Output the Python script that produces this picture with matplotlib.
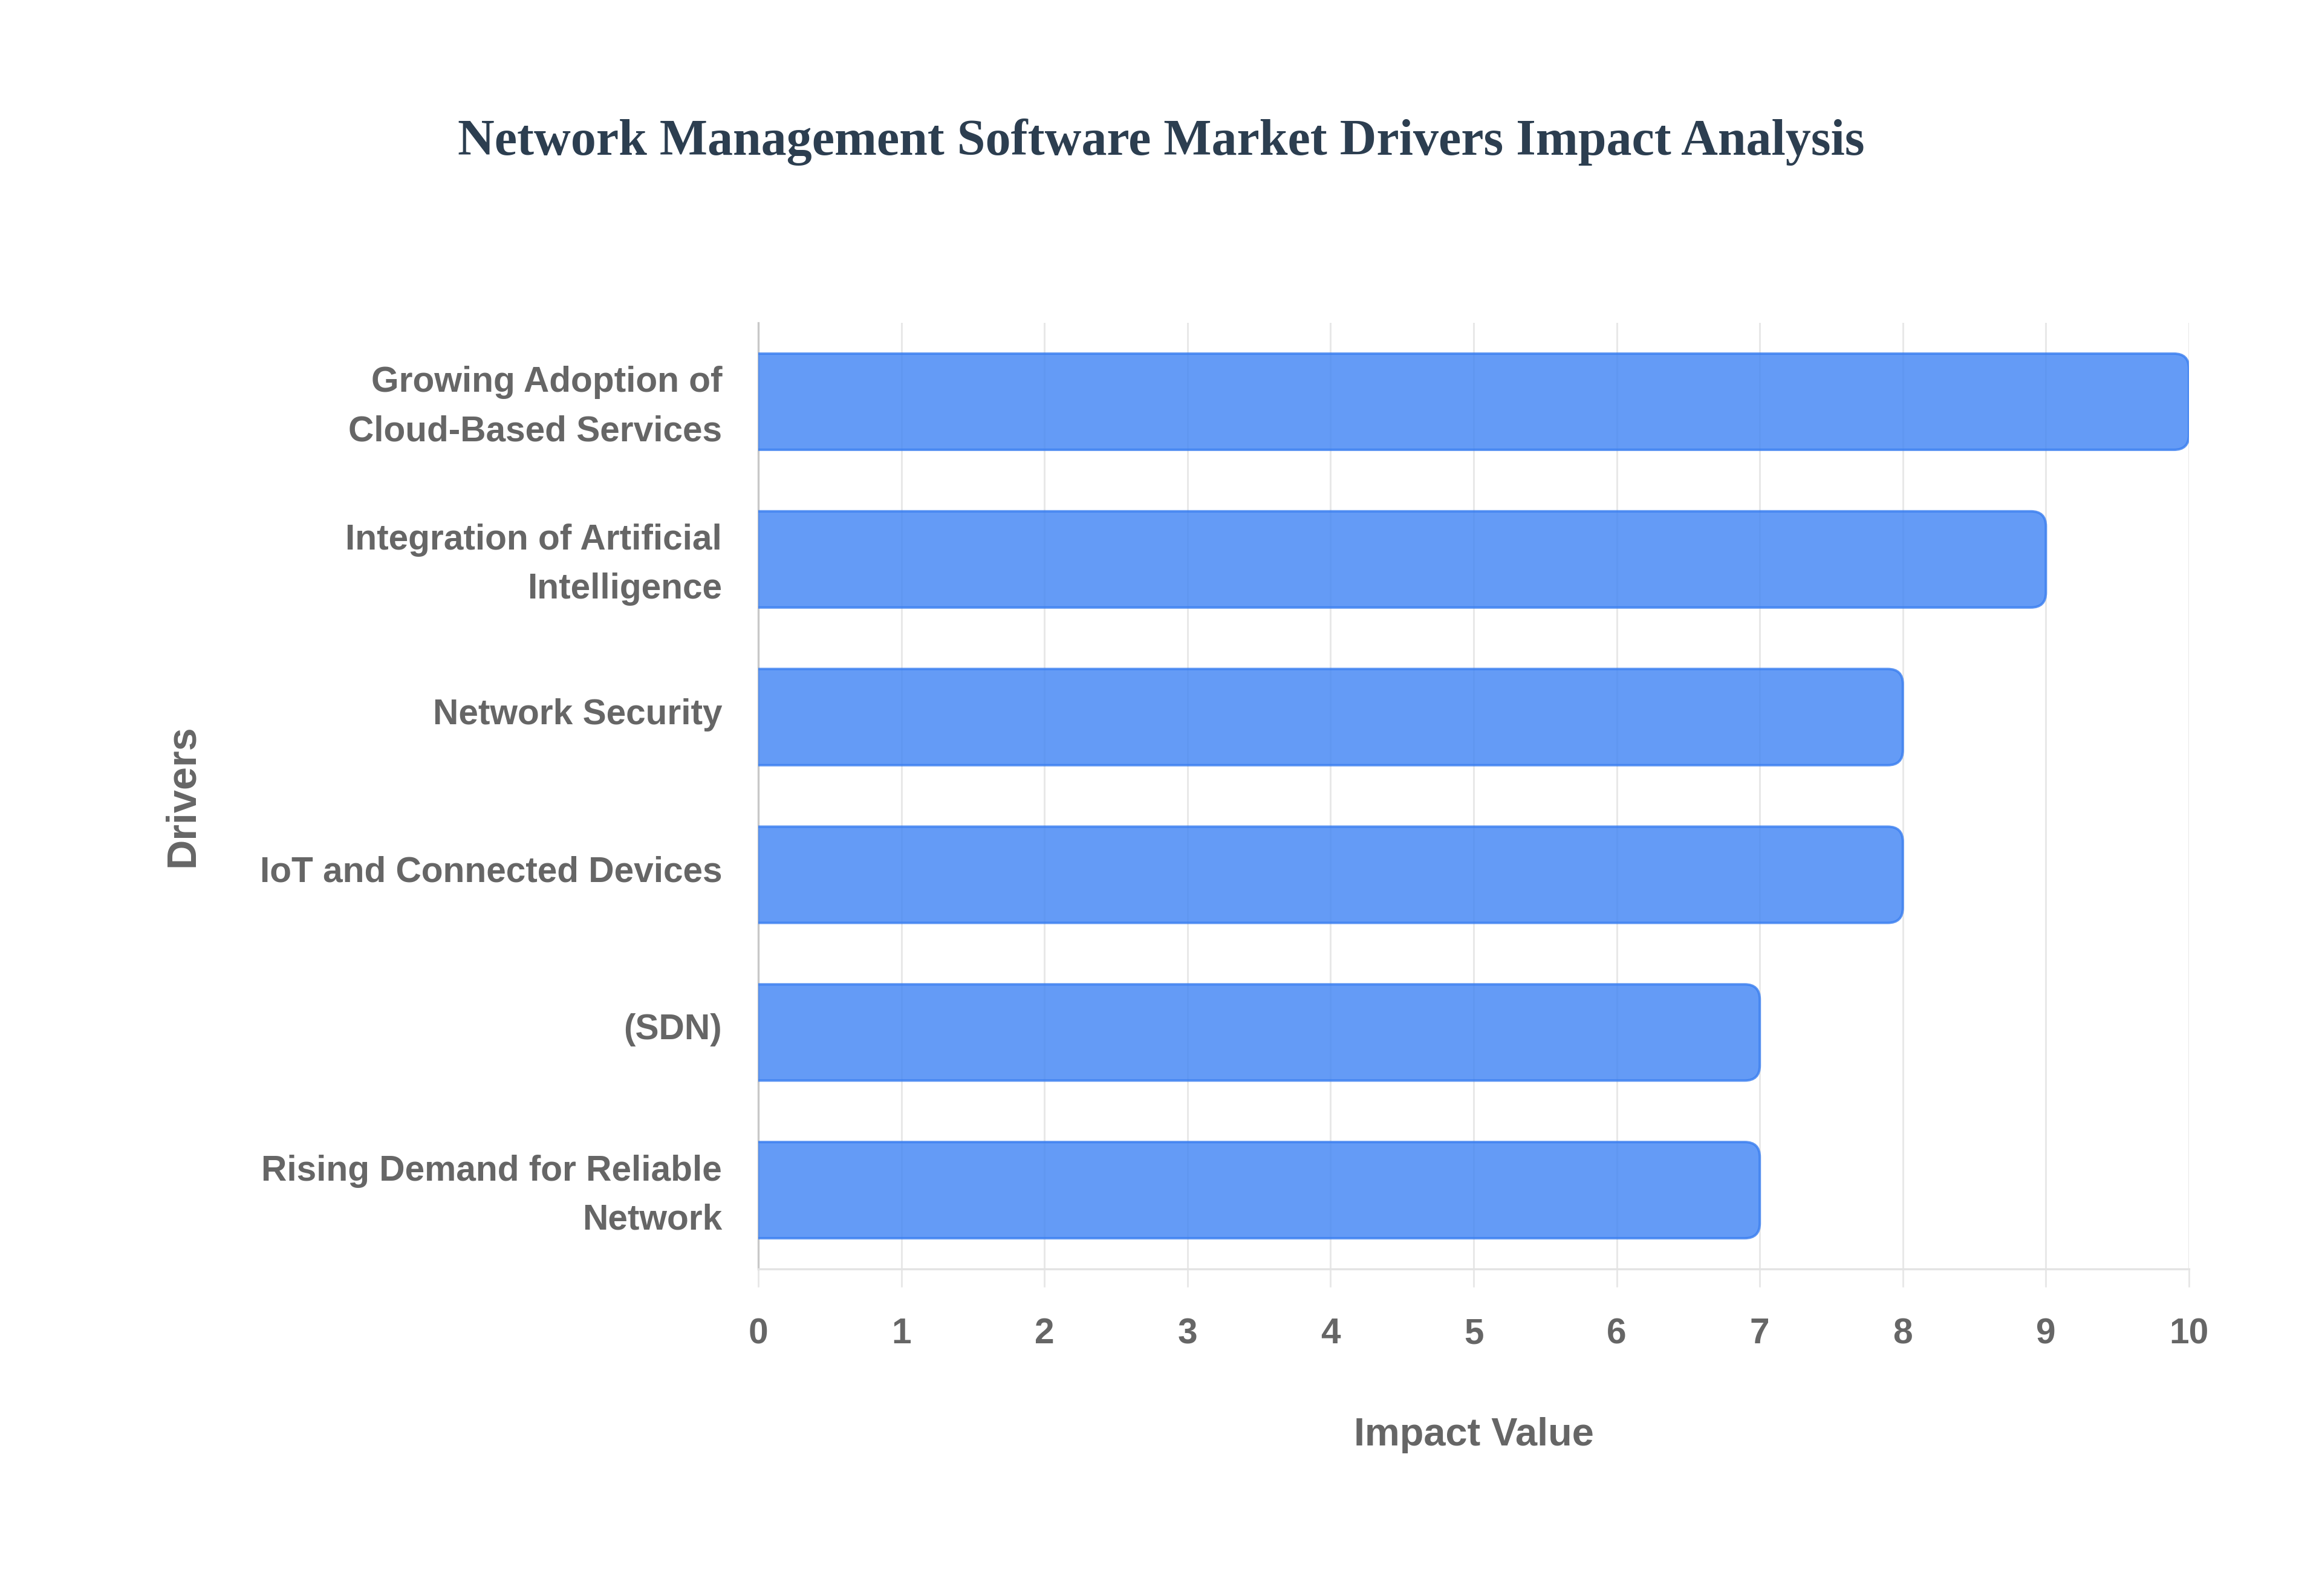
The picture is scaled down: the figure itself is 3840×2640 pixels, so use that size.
import matplotlib
matplotlib.use("Agg")
import matplotlib.pyplot as plt
import matplotlib.transforms as mtransforms
from matplotlib.patches import FancyBboxPatch


drivers = [
    "Growing Adoption of\nCloud-Based Services",
    "Integration of Artificial\nIntelligence",
    "Network Security",
    "IoT and Connected Devices",
    "(SDN)",
    "Rising Demand for Reliable\nNetwork",
]
impact = [10, 9, 8, 8, 7, 7]
x_ticks = [0, 1, 2, 3, 4, 5, 6, 7, 8, 9, 10]

TEXT = "#666666"
GRID = "#e8e8e8"

fig = plt.figure(figsize=(16, 11), dpi=240)
ax = fig.add_axes([0.3266, 0.2049, 0.6161, 0.5928])

pos = list(range(len(drivers)))[::-1]
bars = ax.barh(pos, impact, height=0.61)

ax.set_xlim(0, 10)
ax.set_ylim(-0.5, len(drivers) - 0.5)

# rounded right ends, left end hidden behind the axis
w_px = 0.6161 * 3840 / 10
h_px = 0.5928 * 2640 / len(drivers)
for b in bars:
    b.remove()
    x0, y0 = b.get_x(), b.get_y()
    p = FancyBboxPatch((x0 - 0.4, y0), b.get_width() + 0.4, b.get_height(),
                       boxstyle="round,pad=0,rounding_size=0.105",
                       mutation_aspect=w_px / h_px,
                       facecolor="#4285f4", alpha=0.82, edgecolor="#3b7ff0",
                       linewidth=1.2, zorder=3)
    ax.add_patch(p)

ax.set_yticks(pos)
ax.set_yticklabels(drivers, fontsize=17.6, fontweight="bold", color=TEXT,
                   family="Liberation Sans", linespacing=1.6)
ax.set_xticks(x_ticks)
ax.set_xticklabels([str(t) for t in x_ticks], fontsize=17.6,
                   fontweight="bold", color=TEXT, family="Liberation Sans")
ax.tick_params(axis="y", length=0, pad=18)
ax.tick_params(axis="x", length=9, width=0.9, color=GRID, pad=15)

# nudge driver labels up a little
shift = mtransforms.ScaledTranslation(0, 10 / 240, fig.dpi_scale_trans)
for lbl in ax.get_yticklabels():
    lbl.set_transform(lbl.get_transform() + shift)

ax.grid(axis="x", color=GRID, linewidth=0.9, zorder=0)
ax.set_axisbelow(True)
for s in ["top", "right"]:
    ax.spines[s].set_visible(False)
ax.spines["left"].set_color("#c8c8c8")
ax.spines["left"].set_linewidth(1.0)
ax.spines["bottom"].set_color("#e3e3e3")
ax.spines["bottom"].set_linewidth(1.0)

ax.set_xlabel("Impact Value", fontsize=19.5, fontweight="bold", color=TEXT,
              family="Liberation Sans", labelpad=33)
ax.set_ylabel("Drivers", fontsize=20.5, fontweight="bold", color=TEXT,
              family="Liberation Sans")
ax.yaxis.set_label_coords(-0.389, 0.5)

fig.text(0.5, 0.911, "Network Management Software Market Drivers Impact Analysis",
         ha="center", va="center", fontsize=25.2, fontweight="bold",
         color="#2c3e50", family="Liberation Serif")

fig.savefig("out.png", dpi=240, facecolor="white")
